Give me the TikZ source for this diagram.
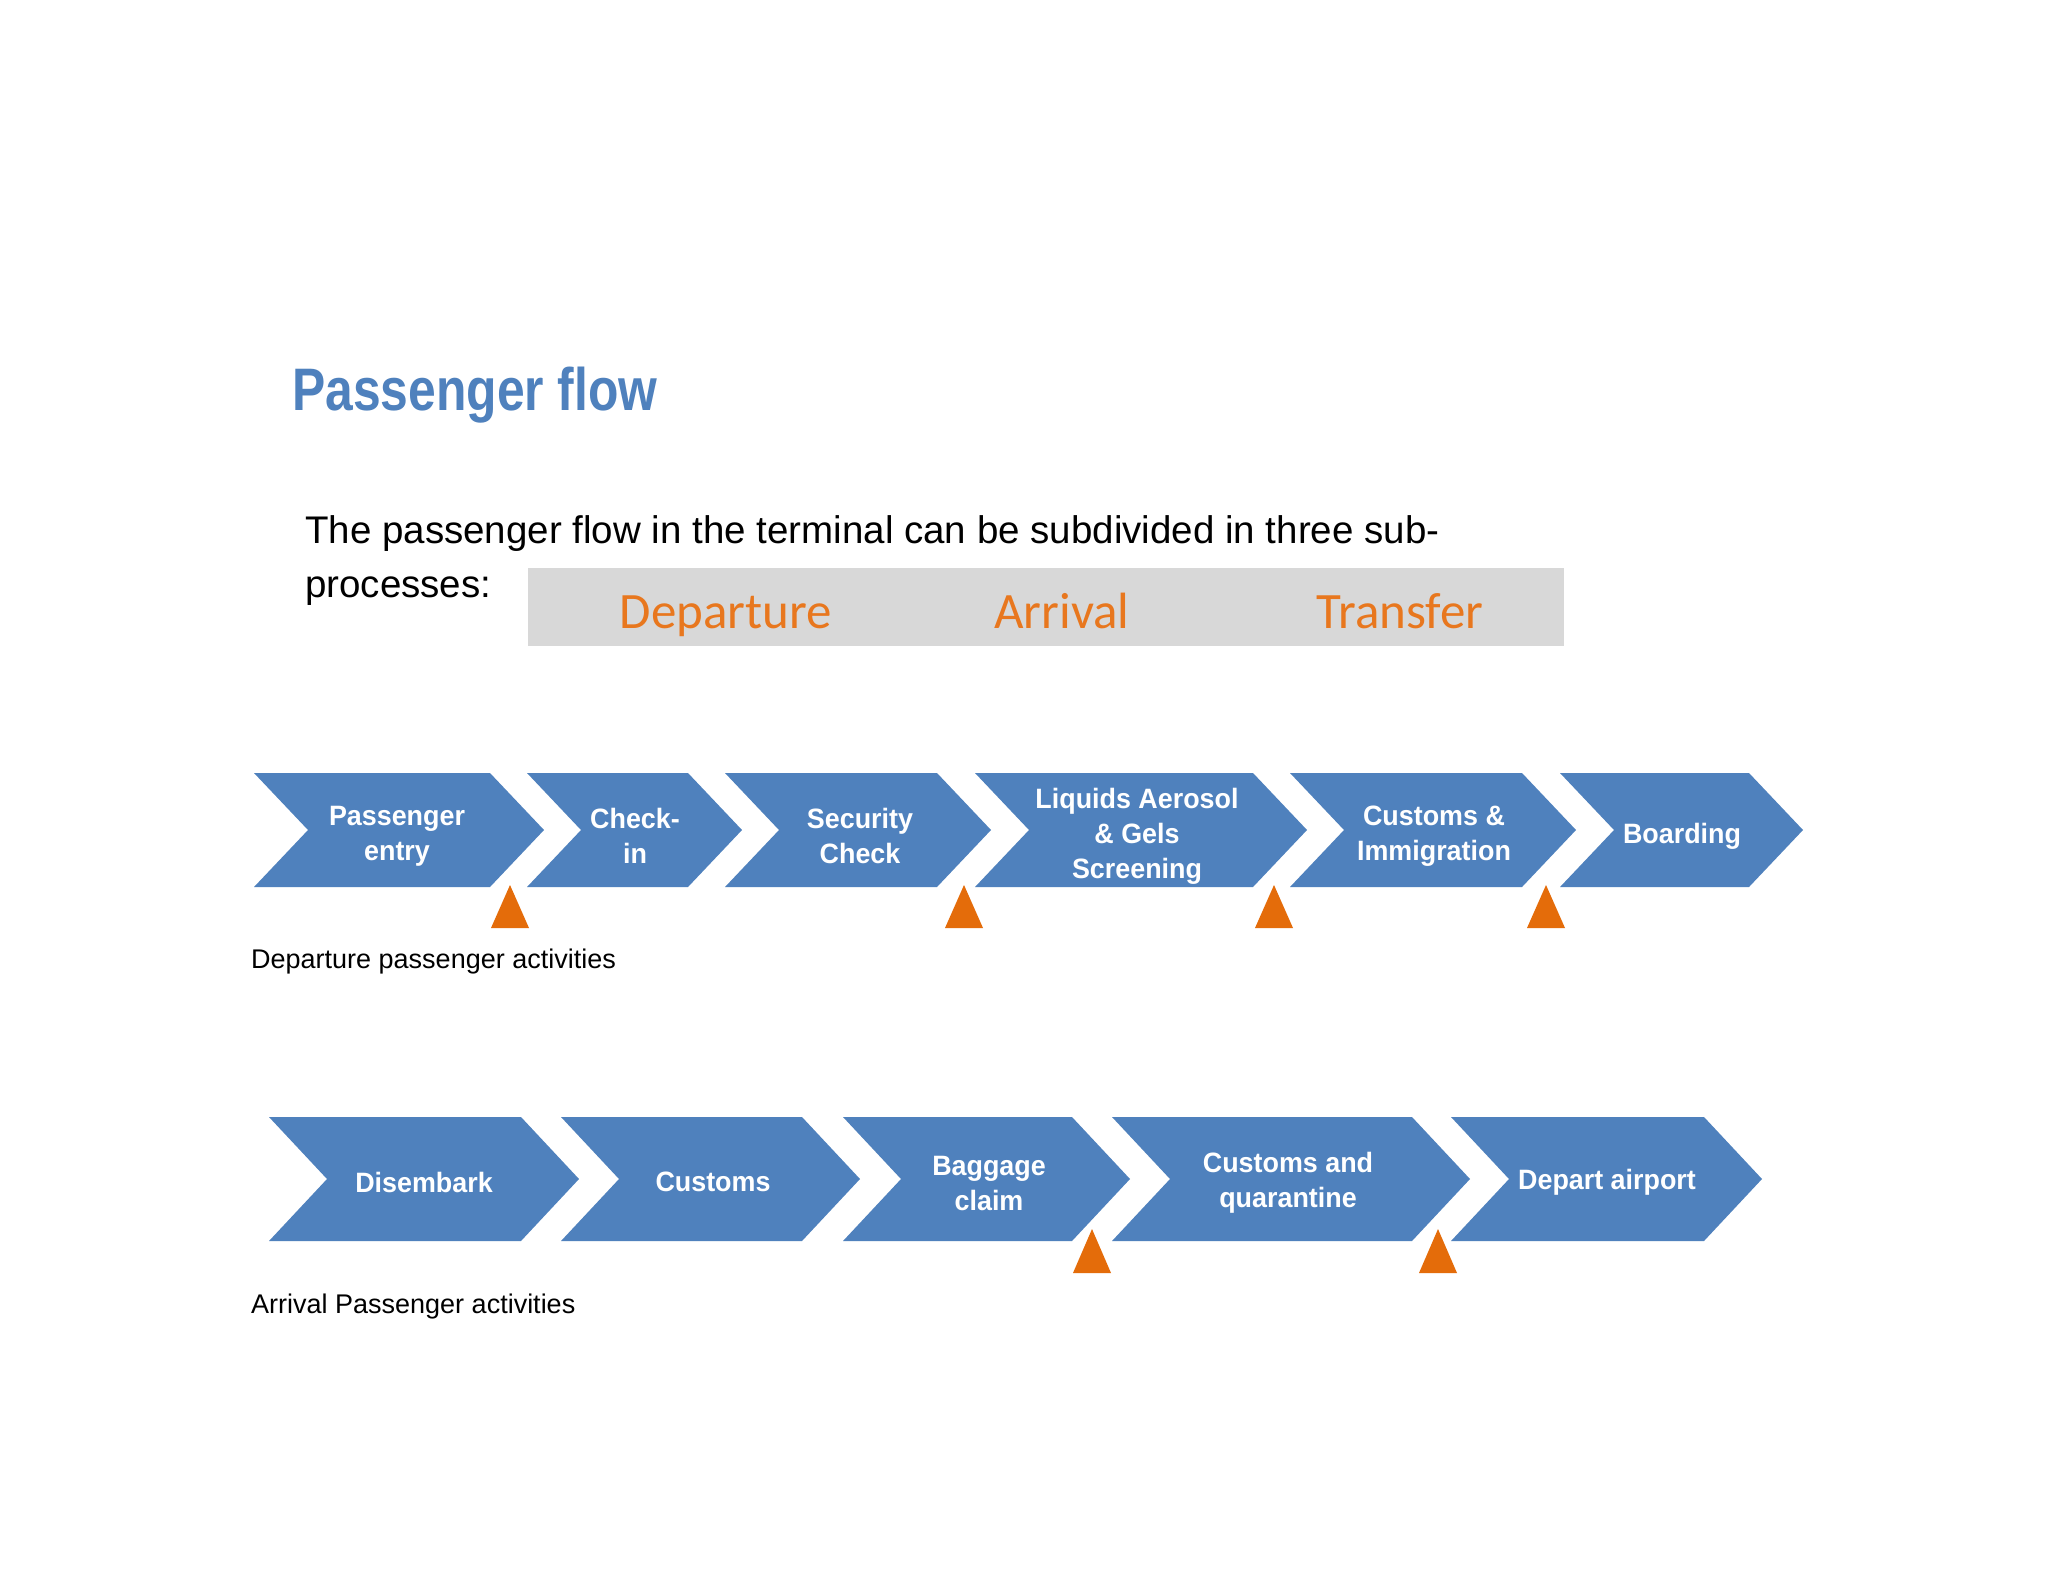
\documentclass[tikz,border=0pt]{standalone}
\usepackage{fontspec}
\setmainfont{Liberation Sans}
\newfontfamily\calibfont{Carlito}
\newfontfamily\narrowfont[FakeStretch=0.83]{Liberation Sans}
\newfontfamily\chevfont[FakeStretch=0.96]{Liberation Sans}
\definecolor{chevblue}{HTML}{4F81BD}
\definecolor{titleblue}{HTML}{4F81BD}
\definecolor{triorange}{HTML}{E46C0A}
\definecolor{txtorange}{HTML}{E8771E}
\definecolor{boxgray}{HTML}{D8D8D8}
\newcommand\chevshape[5]{%
  \fill[chevblue] (#1,#3) -- (#2,#3) -- ({#2+#5},{(#3+#4)/2}) -- (#2,#4) -- (#1,#4) -- ({#1+#5},{(#3+#4)/2}) -- cycle;}
\newcommand\marker[3]{%
  \fill[triorange] (#1,#2) -- ({#1+19},#3) -- ({#1-19},#3) -- cycle;}
\begin{document}
\begin{tikzpicture}[x=1pt,y=-1pt,
  chevtext/.style={text=white, align=center, inner sep=0pt,
    font=\chevfont\fontsize{28}{35}\selectfont\bfseries},
  plain/.style={anchor=base west, inner sep=0pt},
  subproc/.style={anchor=base, inner sep=0pt, text=txtorange,
    font=\calibfont\fontsize{51}{60}\selectfont}]
\useasboundingbox (0,0) rectangle (2048,1582);
\fill[white] (0,0) rectangle (2048,1582);

% title and intro
\node[plain, text=titleblue, font=\narrowfont\bfseries\fontsize{60}{70}\selectfont] (title) at (292,410) {Passenger flow};
\node[plain, font=\fontsize{38.5}{46}\selectfont] (intro1) at (305,543) {The passenger flow in the terminal can be subdivided in three sub-};
\node[plain, font=\fontsize{38.5}{46}\selectfont] (intro2) at (305,597) {processes:};

\fill[boxgray] (528,568) rectangle (1564,646);
\node[subproc] (dep) at (726,628) {Departure};
\node[subproc] (arr) at (1062,628) {Arrival};
\node[subproc] (tra) at (1400,628) {Transfer};

% departure row
\chevshape{254}{490}{773}{887}{54}
\chevshape{527}{688}{773}{887}{54}
\chevshape{725}{937}{773}{887}{54}
\chevshape{975}{1253}{773}{887}{54}
\chevshape{1290}{1522}{773}{887}{54}
\chevshape{1560}{1749}{773}{887}{54}
\node[chevtext] (d1) at (397,836) {Passenger\\entry};
\node[chevtext] (d2) at (635,836) {Check-\\in};
\node[chevtext] (d3) at (860,836) {Security\\Check};
\node[chevtext] (d4) at (1137,836) {Liquids Aerosol\\\& Gels\\Screening};
\node[chevtext] (d5) at (1434,836) {Customs \&\\Immigration};
\node[chevtext] (d6) at (1682,836) {Boarding};
\marker{510}{885}{928}
\marker{964}{885}{928}
\marker{1274}{885}{928}
\marker{1546}{885}{928}
\node[plain, font=\fontsize{27}{32}\selectfont] (deplabel) at (251,968) {Departure passenger activities};

% arrival row
\chevshape{269}{521}{1117}{1241}{58}
\chevshape{561}{802}{1117}{1241}{58}
\chevshape{843}{1072}{1117}{1241}{58}
\chevshape{1112}{1412}{1117}{1241}{58}
\chevshape{1451}{1704}{1117}{1241}{58}
\node[chevtext] (a1) at (424,1182) {Disembark};
\node[chevtext] (a2) at (713,1182) {Customs};
\node[chevtext] (a3) at (989,1183) {Baggage\\claim};
\node[chevtext] (a4) at (1288,1183) {Customs and\\quarantine};
\node[chevtext] (a5) at (1607,1182) {Depart airport};
\marker{1092}{1229}{1273}
\marker{1438}{1229}{1273}
\node[plain, font=\fontsize{27}{32}\selectfont] (arrlabel) at (251,1313) {Arrival Passenger activities};
\end{tikzpicture}
\end{document}
